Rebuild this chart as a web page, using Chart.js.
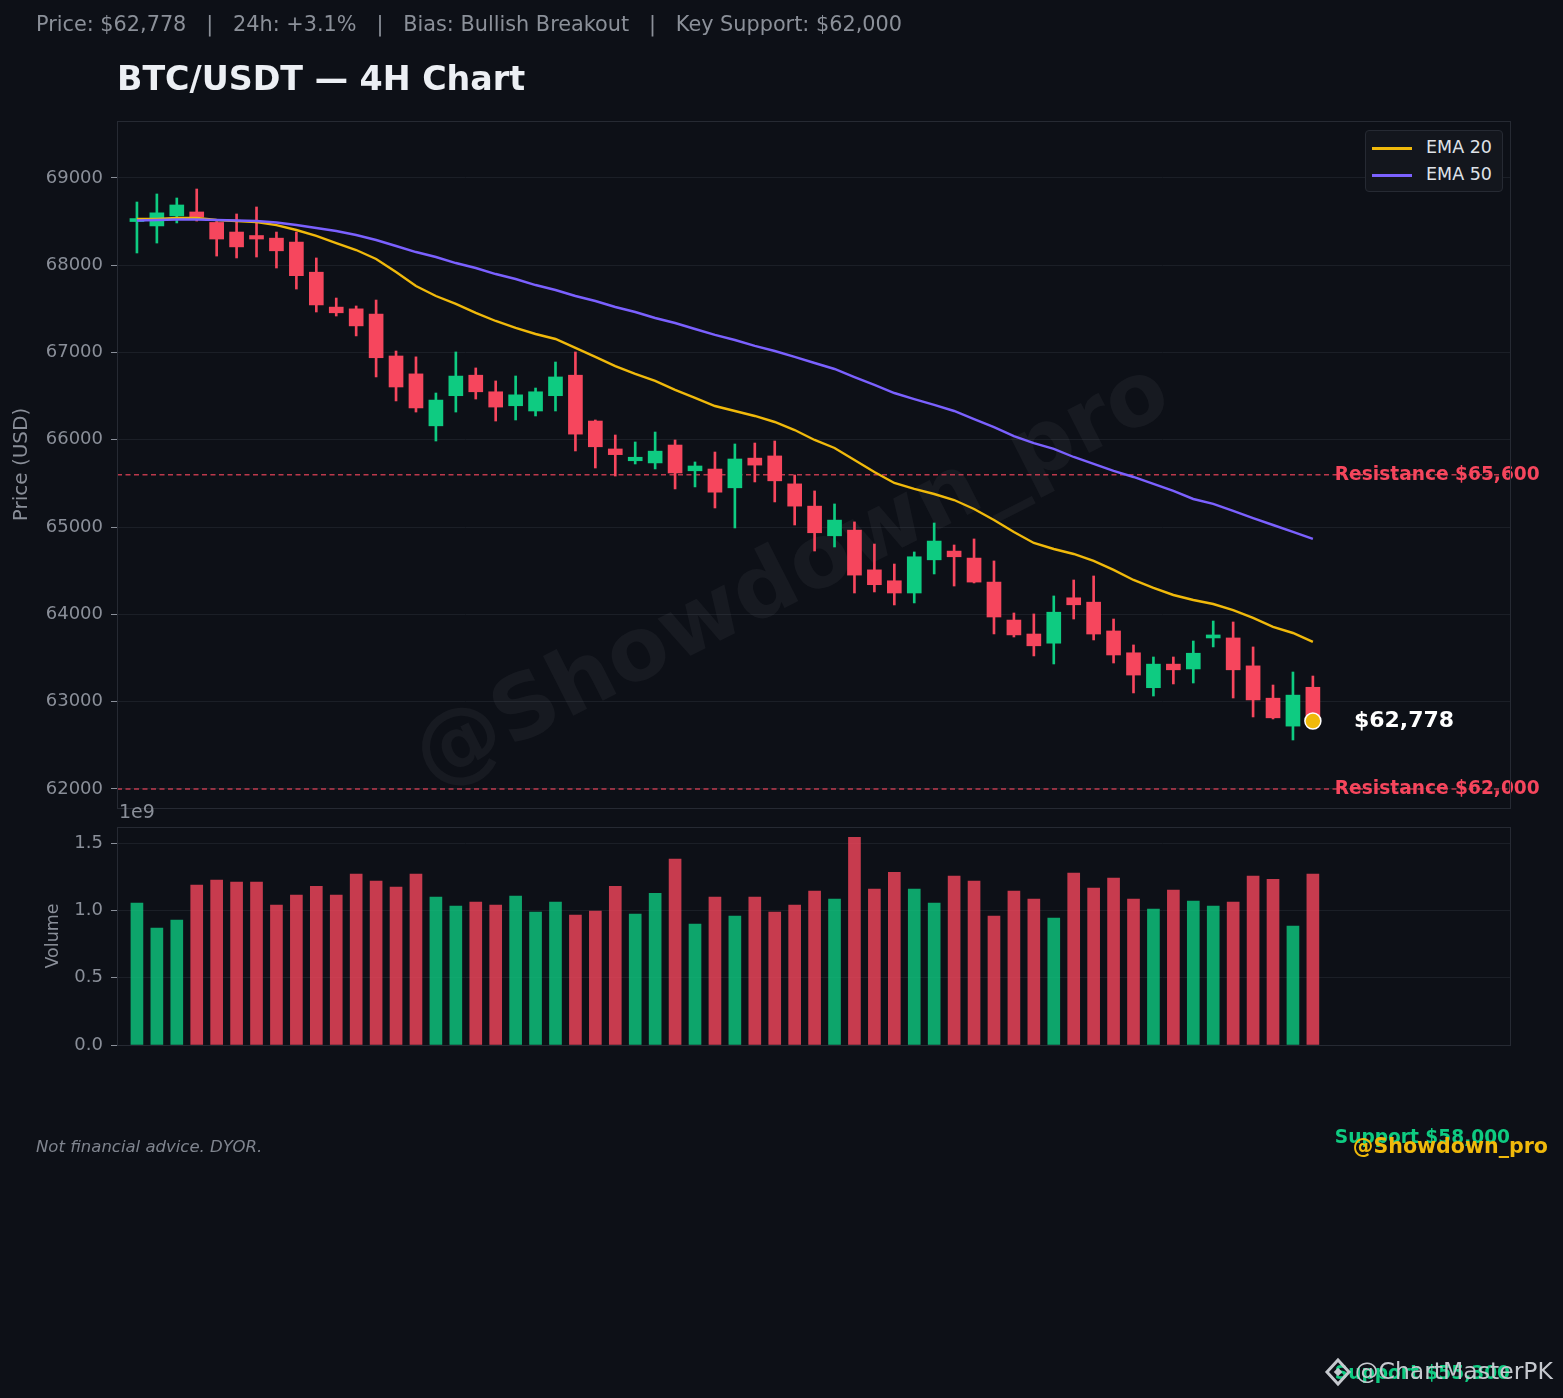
<!DOCTYPE html>
<html>
<head>
<meta charset="utf-8">
<script src="https://cdn.jsdelivr.net/npm/chart.js@4.4.1/dist/chart.umd.min.js"></script>
<style>
  body { margin: 0; background: #0d1017; width: 1563px; height: 1398px; position: relative; overflow: hidden; font-family: "DejaVu Sans", sans-serif; }
  canvas { position: absolute; left: 0; top: 0; }
  .txt { position: absolute; white-space: pre; z-index: 5; }
  #header { left: 36px; top: 11px; font-size: 20.8px; line-height: 26px; color: #8b9099; }
  #title { left: 117px; top: 58px; font-size: 33.3px; line-height: 42px; font-weight: bold; color: #eceff4; }
  #legend { position: absolute; left: 1365px; top: 130px; width: 136px; height: 60px; background: #13161d; border: 1px solid #262a33; border-radius: 4px; z-index: 5; }
  .lg { position: absolute; left: 6px; width: 40px; height: 2.5px; }
  .lt { position: absolute; left: 60px; font-size: 17.5px; line-height: 20px; color: #dfe2e8; }
  #note { left: 36px; top: 1137px; font-size: 16.5px; line-height: 20px; font-style: italic; color: #7f848e; }
  #brand { right: 15px; top: 1134px; font-size: 20.6px; line-height: 24px; font-weight: bold; color: #f0b90b; }
  #cm { left: 1355px; top: 1356px; font-size: 23.5px; line-height: 30px; color: #c5c8ce; }
  #logo { position: absolute; left: 1324px; top: 1357px; z-index: 5; }
</style>
</head>
<body>
<div class="txt" id="header">Price: $62,778   |   24h: +3.1%   |   Bias: Bullish Breakout   |   Key Support: $62,000</div>
<div class="txt" id="title">BTC/USDT — 4H Chart</div>
<div id="legend">
  <div class="lg" style="top:16px;background:#f0b90b"></div><div class="lt" style="top:6px">EMA 20</div>
  <div class="lg" style="top:43px;background:#7b61ff"></div><div class="lt" style="top:33px">EMA 50</div>
</div>
<div class="txt" id="note">Not financial advice. DYOR.</div>
<canvas id="price" width="1563" height="1398"></canvas>
<canvas id="volume" width="1563" height="1398"></canvas>
<div class="txt" id="brand">@Showdown_pro</div>
<svg id="logo" width="28" height="30" viewBox="0 0 28 30">
  <g fill="none" stroke="#c5c8ce" stroke-width="3">
    <path d="M14 3 L25 15 L14 27 L3 15 Z"/>
  </g>
  <rect x="11" y="12" width="6" height="6" fill="#c5c8ce" transform="rotate(45 14 15)"/>
</svg>
<div class="txt" id="cm">@ChartMasterPK</div>

<script>
// candles (4H)
const opens = [68500, 68450, 68565, 68610, 68490, 68380, 68340, 68310, 68265, 67920,
  67520, 67500, 67440, 66960, 66755, 66160, 66505, 66740, 66550, 66390,
  66330, 66505, 66740, 66215, 65895, 65760, 65735, 65940, 65645, 65665,
  65450, 65790, 65815, 65495, 65240, 64900, 64965, 64510, 64385, 64245,
  64625, 64725, 64645, 64370, 63935, 63775, 63670, 64190, 64140, 63810,
  63560, 63160, 63430, 63375, 63730, 63730, 63410, 63040, 62720, 63165];
const highs = [68724, 68816, 68770, 68873, 68500, 68587, 68667, 68380, 68380, 68083,
  67624, 67533, 67601, 67017, 66950, 66536, 67006, 66823, 66674, 66731,
  66593, 66891, 67006, 66227, 66055, 65975, 66089, 65998, 65746, 65860,
  65952, 65963, 65986, 65597, 65414, 65265, 65059, 64806, 64577, 64715,
  65047, 64795, 64864, 64612, 64016, 64005, 64211, 64394, 64440, 63947,
  63650, 63512, 63512, 63695, 63924, 63913, 63627, 63191, 63340, 63294];
const lows = [68140, 68254, 68484, 68506, 68105, 68083, 68094, 67968, 67727, 67464,
  67418, 67190, 66720, 66445, 66318, 65986, 66318, 66467, 66215, 66227,
  66273, 66330, 65872, 65677, 65585, 65723, 65666, 65437, 65460, 65219,
  64990, 65517, 65288, 65024, 64726, 64772, 64245, 64257, 64108, 64131,
  64463, 64325, 64360, 63776, 63741, 63524, 63432, 63947, 63707, 63443,
  63100, 63065, 63203, 63214, 63627, 63042, 62825, 62802, 62561, 62750];
const closes = [68520, 68600, 68690, 68550, 68300, 68210, 68300, 68165, 67880, 67545,
  67455, 67305, 66940, 66605, 66365, 66455, 66730, 66550, 66375, 66515,
  66550, 66720, 66065, 65920, 65830, 65800, 65870, 65620, 65700, 65400,
  65780, 65710, 65530, 65240, 64935, 65080, 64450, 64340, 64245, 64660,
  64840, 64660, 64370, 63970, 63765, 63640, 64025, 64110, 63775, 63535,
  63305, 63430, 63365, 63555, 63760, 63365, 63020, 62815, 63075, 62778];
const volumes = [1.054e9, 0.869e9, 0.928e9, 1.188e9, 1.225e9, 1.21e9, 1.21e9, 1.04e9, 1.114e9, 1.18e9,
  1.114e9, 1.27e9, 1.218e9, 1.173e9, 1.27e9, 1.099e9, 1.032e9, 1.062e9, 1.04e9, 1.106e9,
  0.987e9, 1.062e9, 0.965e9, 0.995e9, 1.18e9, 0.972e9, 1.128e9, 1.381e9, 0.898e9, 1.099e9,
  0.958e9, 1.099e9, 0.987e9, 1.04e9, 1.143e9, 1.084e9, 1.544e9, 1.158e9, 1.284e9, 1.158e9,
  1.054e9, 1.255e9, 1.218e9, 0.958e9, 1.143e9, 1.084e9, 0.943e9, 1.277e9, 1.166e9, 1.24e9,
  1.084e9, 1.01e9, 1.151e9, 1.069e9, 1.032e9, 1.062e9, 1.255e9, 1.232e9, 0.883e9, 1.27e9];
const ema20 = [68529, 68529, 68540, 68540, 68518, 68506, 68495, 68460, 68403, 68335,
  68254, 68174, 68071, 67922, 67762, 67647, 67556, 67453, 67361, 67281,
  67212, 67155, 67052, 66949, 66845, 66754, 66674, 66571, 66479, 66387,
  66330, 66273, 66204, 66112, 65998, 65906, 65769, 65631, 65505, 65437,
  65379, 65310, 65207, 65081, 64944, 64818, 64749, 64692, 64612, 64509,
  64394, 64303, 64222, 64165, 64119, 64050, 63959, 63856, 63787, 63684];
const ema50 = [68512, 68518, 68524, 68524, 68518, 68512, 68506, 68489, 68461, 68426,
  68392, 68346, 68289, 68220, 68151, 68094, 68025, 67968, 67899, 67842,
  67773, 67716, 67647, 67590, 67521, 67464, 67395, 67338, 67269, 67201,
  67143, 67075, 67017, 66949, 66880, 66811, 66719, 66628, 66536, 66467,
  66399, 66330, 66238, 66146, 66043, 65963, 65895, 65803, 65723, 65643,
  65574, 65494, 65414, 65322, 65265, 65185, 65104, 65024, 64944, 64864];
const priceTicks = [62000, 63000, 64000, 65000, 66000, 67000, 68000, 69000];
const volumeTicks = [0, 0.5e9, 1.0e9, 1.5e9];
const resistanceLevels = [65600, 62000];
const supportLevels = [58000, 55300];
const lastPrice = 62778;

const GREEN = "#0ecb81";
const RED = "#f6465d";
const X_MIN = -1.0, X_MAX = 68.94;
const FONT = "'DejaVu Sans', sans-serif";
const TICK = "#8a8f99";
const GRID = "#1b1f27";
const SPINE = "#262a33";

const idx = opens.map((_, i) => i);
const up = idx.map(i => closes[i] >= opens[i]);
const candleColors = up.map(u => (u ? GREEN : RED));
const volColors = up.map(u => (u ? "rgba(14,203,129,0.8)" : "rgba(246,70,93,0.8)"));

const fmt = v => "$" + v.toLocaleString("en-US");

function fixedWidth(scale) { scale.width = 117; }
const useTicks = list => scale => { scale.ticks = list.map(v => ({ value: v })); };

const spines = {
  id: "spines",
  afterDraw(chart) {
    const { ctx, chartArea: a } = chart;
    ctx.save();
    ctx.strokeStyle = SPINE;
    ctx.lineWidth = 1;
    ctx.strokeRect(a.left + 0.5, a.top + 0.5, a.right - a.left - 1, a.bottom - a.top);
    ctx.restore();
  }
};

const priceDecor = {
  id: "priceDecor",
  beforeDatasetsDraw(chart) {
    const { ctx } = chart;
    ctx.save();
    ctx.translate(793, 578);
    ctx.rotate(-27 * Math.PI / 180);
    ctx.font = "bold 88px " + FONT;
    ctx.fillStyle = "rgba(255,255,255,0.045)";
    ctx.textAlign = "center";
    ctx.textBaseline = "middle";
    ctx.fillText("@Showdown_pro", 0, 0);
    ctx.restore();
  },
  afterDraw(chart) {
    const { ctx } = chart;
    const xs = chart.scales.x, ys = chart.scales.y;
    const labelX = xs.getPixelForValue(60.1);
    ctx.save();
    ctx.textBaseline = "middle";
    ctx.textAlign = "left";
    ctx.font = "bold 18.6px " + FONT;
    ctx.fillStyle = RED;
    resistanceLevels.forEach(l => ctx.fillText("Resistance " + fmt(l), labelX, ys.getPixelForValue(l)));
    ctx.fillStyle = GREEN;
    supportLevels.forEach(l => ctx.fillText("Support " + fmt(l), labelX, ys.getPixelForValue(l)));
    ctx.font = "bold 22px " + FONT;
    ctx.fillStyle = "#ffffff";
    ctx.fillText(fmt(lastPrice), xs.getPixelForValue(59) + 41, ys.getPixelForValue(lastPrice));
    ctx.restore();
  }
};

const volDecor = {
  id: "volDecor",
  afterDraw(chart) {
    const { ctx, chartArea: a } = chart;
    ctx.save();
    ctx.font = "19px " + FONT;
    ctx.fillStyle = TICK;
    ctx.textBaseline = "middle";
    ctx.fillText("1e9", a.left + 2, a.top - 14);
    ctx.restore();
  }
};

const levelLine = l => ({
  type: "line",
  data: [{ x: X_MIN, y: l }, { x: X_MAX, y: l }],
  borderColor: "rgba(246,70,93,0.75)",
  borderWidth: 1.4,
  borderDash: [5, 3.5],
  pointRadius: 0,
  order: 6
});

new Chart(document.getElementById("price"), {
  type: "bar",
  data: {
    datasets: [
      ...resistanceLevels.map(levelLine),
      {
        label: "wick",
        data: idx.map(i => ({ x: i, y: [lows[i], highs[i]] })),
        backgroundColor: candleColors,
        barThickness: 2,
        grouped: false,
        order: 5
      },
      {
        label: "body",
        data: idx.map(i => ({ x: i, y: [opens[i], closes[i]] })),
        backgroundColor: candleColors,
        barThickness: 14,
        minBarLength: 3,
        grouped: false,
        order: 4
      },
      {
        type: "line",
        label: "EMA 20",
        data: idx.map(i => ({ x: i, y: ema20[i] })),
        borderColor: "#f0b90b",
        borderWidth: 2.4,
        pointRadius: 0,
        order: 3
      },
      {
        type: "line",
        label: "EMA 50",
        data: idx.map(i => ({ x: i, y: ema50[i] })),
        borderColor: "#7b61ff",
        borderWidth: 2.4,
        pointRadius: 0,
        order: 2
      },
      {
        type: "line",
        label: "last",
        data: [{ x: 59, y: lastPrice }],
        showLine: false,
        pointRadius: 8,
        pointBackgroundColor: "#f0b90b",
        pointBorderColor: "#ffffff",
        pointBorderWidth: 1.5,
        order: 1
      }
    ]
  },
  options: {
    responsive: false,
    animation: false,
    events: [],
    layout: { padding: { top: 121, bottom: 590, left: 0, right: 52 } },
    plugins: { legend: { display: false }, tooltip: { enabled: false } },
    scales: {
      x: { type: "linear", min: X_MIN, max: X_MAX, offset: false, display: false },
      y: {
        min: 61782,
        max: 69652,
        afterFit: fixedWidth,
        afterBuildTicks: useTicks(priceTicks),
        border: { display: false },
        grid: { color: GRID, tickColor: TICK, tickLength: 6 },
        ticks: {
          padding: 8,
          color: TICK,
          font: { family: FONT, size: 18 },
          callback: v => String(v)
        },
        title: {
          display: true,
          text: "Price (USD)",
          color: TICK,
          font: { family: FONT, size: 20 },
          padding: { top: 10 }
        }
      }
    }
  },
  plugins: [priceDecor, spines]
});

new Chart(document.getElementById("volume"), {
  type: "bar",
  data: {
    datasets: [{
      label: "Volume",
      data: idx.map(i => ({ x: i, y: volumes[i] })),
      backgroundColor: volColors,
      barThickness: 12
    }]
  },
  options: {
    responsive: false,
    animation: false,
    events: [],
    layout: { padding: { top: 827, bottom: 353, left: 0, right: 52 } },
    plugins: { legend: { display: false }, tooltip: { enabled: false } },
    scales: {
      x: { type: "linear", min: X_MIN, max: X_MAX, offset: false, display: false },
      y: {
        min: 0,
        max: 1.62e9,
        afterFit: fixedWidth,
        afterBuildTicks: useTicks(volumeTicks),
        border: { display: false },
        grid: { color: GRID, tickColor: TICK, tickLength: 6 },
        ticks: {
          padding: 8,
          color: TICK,
          font: { family: FONT, size: 18 },
          callback: v => (v / 1e9).toFixed(1)
        },
        title: {
          display: true,
          text: "Volume",
          color: TICK,
          font: { family: FONT, size: 17.5 },
          padding: { top: 43 }
        }
      }
    }
  },
  plugins: [volDecor, spines]
});
</script>
</body>
</html>
